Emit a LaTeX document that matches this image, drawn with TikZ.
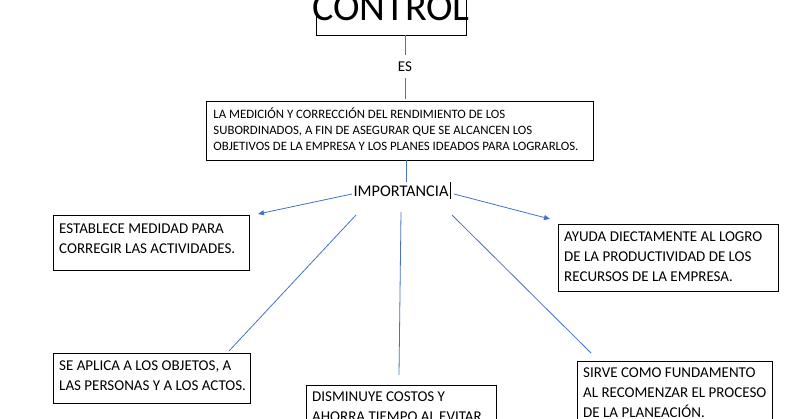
\documentclass[tikz,border=0pt]{standalone}
\usepackage{fontspec}
\setmainfont{Carlito}
\usetikzlibrary{arrows.meta}
\begin{document}
\begin{tikzpicture}[x=1pt,y=-1pt,
 box/.style={draw=black,line width=0.9pt,anchor=north west,align=left,inner sep=0pt},
 con/.style={draw={rgb,255:red,68;green,114;blue,196},line width=0.8pt},
 arr/.style={con,-{Triangle[length=6pt,width=5pt]}},
 txt/.style={font=\fontsize{12.8}{16}\selectfont}]
\useasboundingbox (0,0) rectangle (798,419);
\begin{scope}
\clip (0,0) rectangle (798,419);
\draw[line width=0.9pt] (316,-20) rectangle (466,35);
\node (ctl) at (391,8) {\fontsize{40}{40}\selectfont CONTROL};
\end{scope}
\coordinate (ctlb) at (405,35);
\node[font=\fontsize{15}{15}\selectfont] (es) at (405,67) {ES};
\draw[con] (ctlb) -- (405,55);
\draw[con] (405,78) -- (405,99);
\draw[line width=0.9pt] (206,101) rectangle (593,160);
\node[box,draw=none,txt] (def) at (213,107) {LA MEDICIÓN Y CORRECCIÓN DEL RENDIMIENTO DE LOS\\SUBORDINADOS, A FIN DE ASEGURAR QUE SE ALCANCEN LOS\\OBJETIVOS DE LA EMPRESA Y LOS PLANES IDEADOS PARA LOGRARLOS.};
\draw[con] (406,160) -- (406,182);
\node[font=\fontsize{16.3}{16}\selectfont] (imp) at (401,191) {IMPORTANCIA};
\draw[line width=0.6pt] (450,182) -- (450,199);
\tikzset{b2/.style={draw=none,anchor=north west,align=left,inner sep=0pt,font=\fontsize{15}{20}\selectfont}}
\draw[line width=0.9pt] (53,215) rectangle (249,270);
\node[b2] (b1) at (59,224) {ESTABLECE MEDIDAD PARA\\CORREGIR LAS ACTIVIDADES.};
\draw[line width=0.9pt] (558,224) rectangle (778,291);
\node[b2] (b2) at (564,232) {AYUDA DIECTAMENTE AL LOGRO\\DE LA PRODUCTIVIDAD DE LOS\\RECURSOS DE LA EMPRESA.};
\draw[line width=0.9pt] (53,353) rectangle (250,403);
\node[b2] (b3) at (59,361) {SE APLICA A LOS OBJETOS, A\\LAS PERSONAS Y A LOS ACTOS.};
\draw[line width=0.9pt] (306,385) rectangle (496,425);
\node[b2] (b4) at (312,392) {DISMINUYE COSTOS Y\\AHORRA TIEMPO AL EVITAR};
\draw[line width=0.9pt] (577,361) rectangle (772,425);
\node[b2] (b5) at (583,368) {SIRVE COMO FUNDAMENTO\\AL RECOMENZAR EL PROCESO\\DE LA PLANEACIÓN.};
\draw[arr] (352,194) -- (258,214);
\draw[arr] (454,194) -- (550,219);
\draw[con] (356,215) -- (229,351);
\draw[con] (401,212) -- (399,375);
\draw[con] (452,215) -- (591,353);
\end{tikzpicture}
\end{document}
